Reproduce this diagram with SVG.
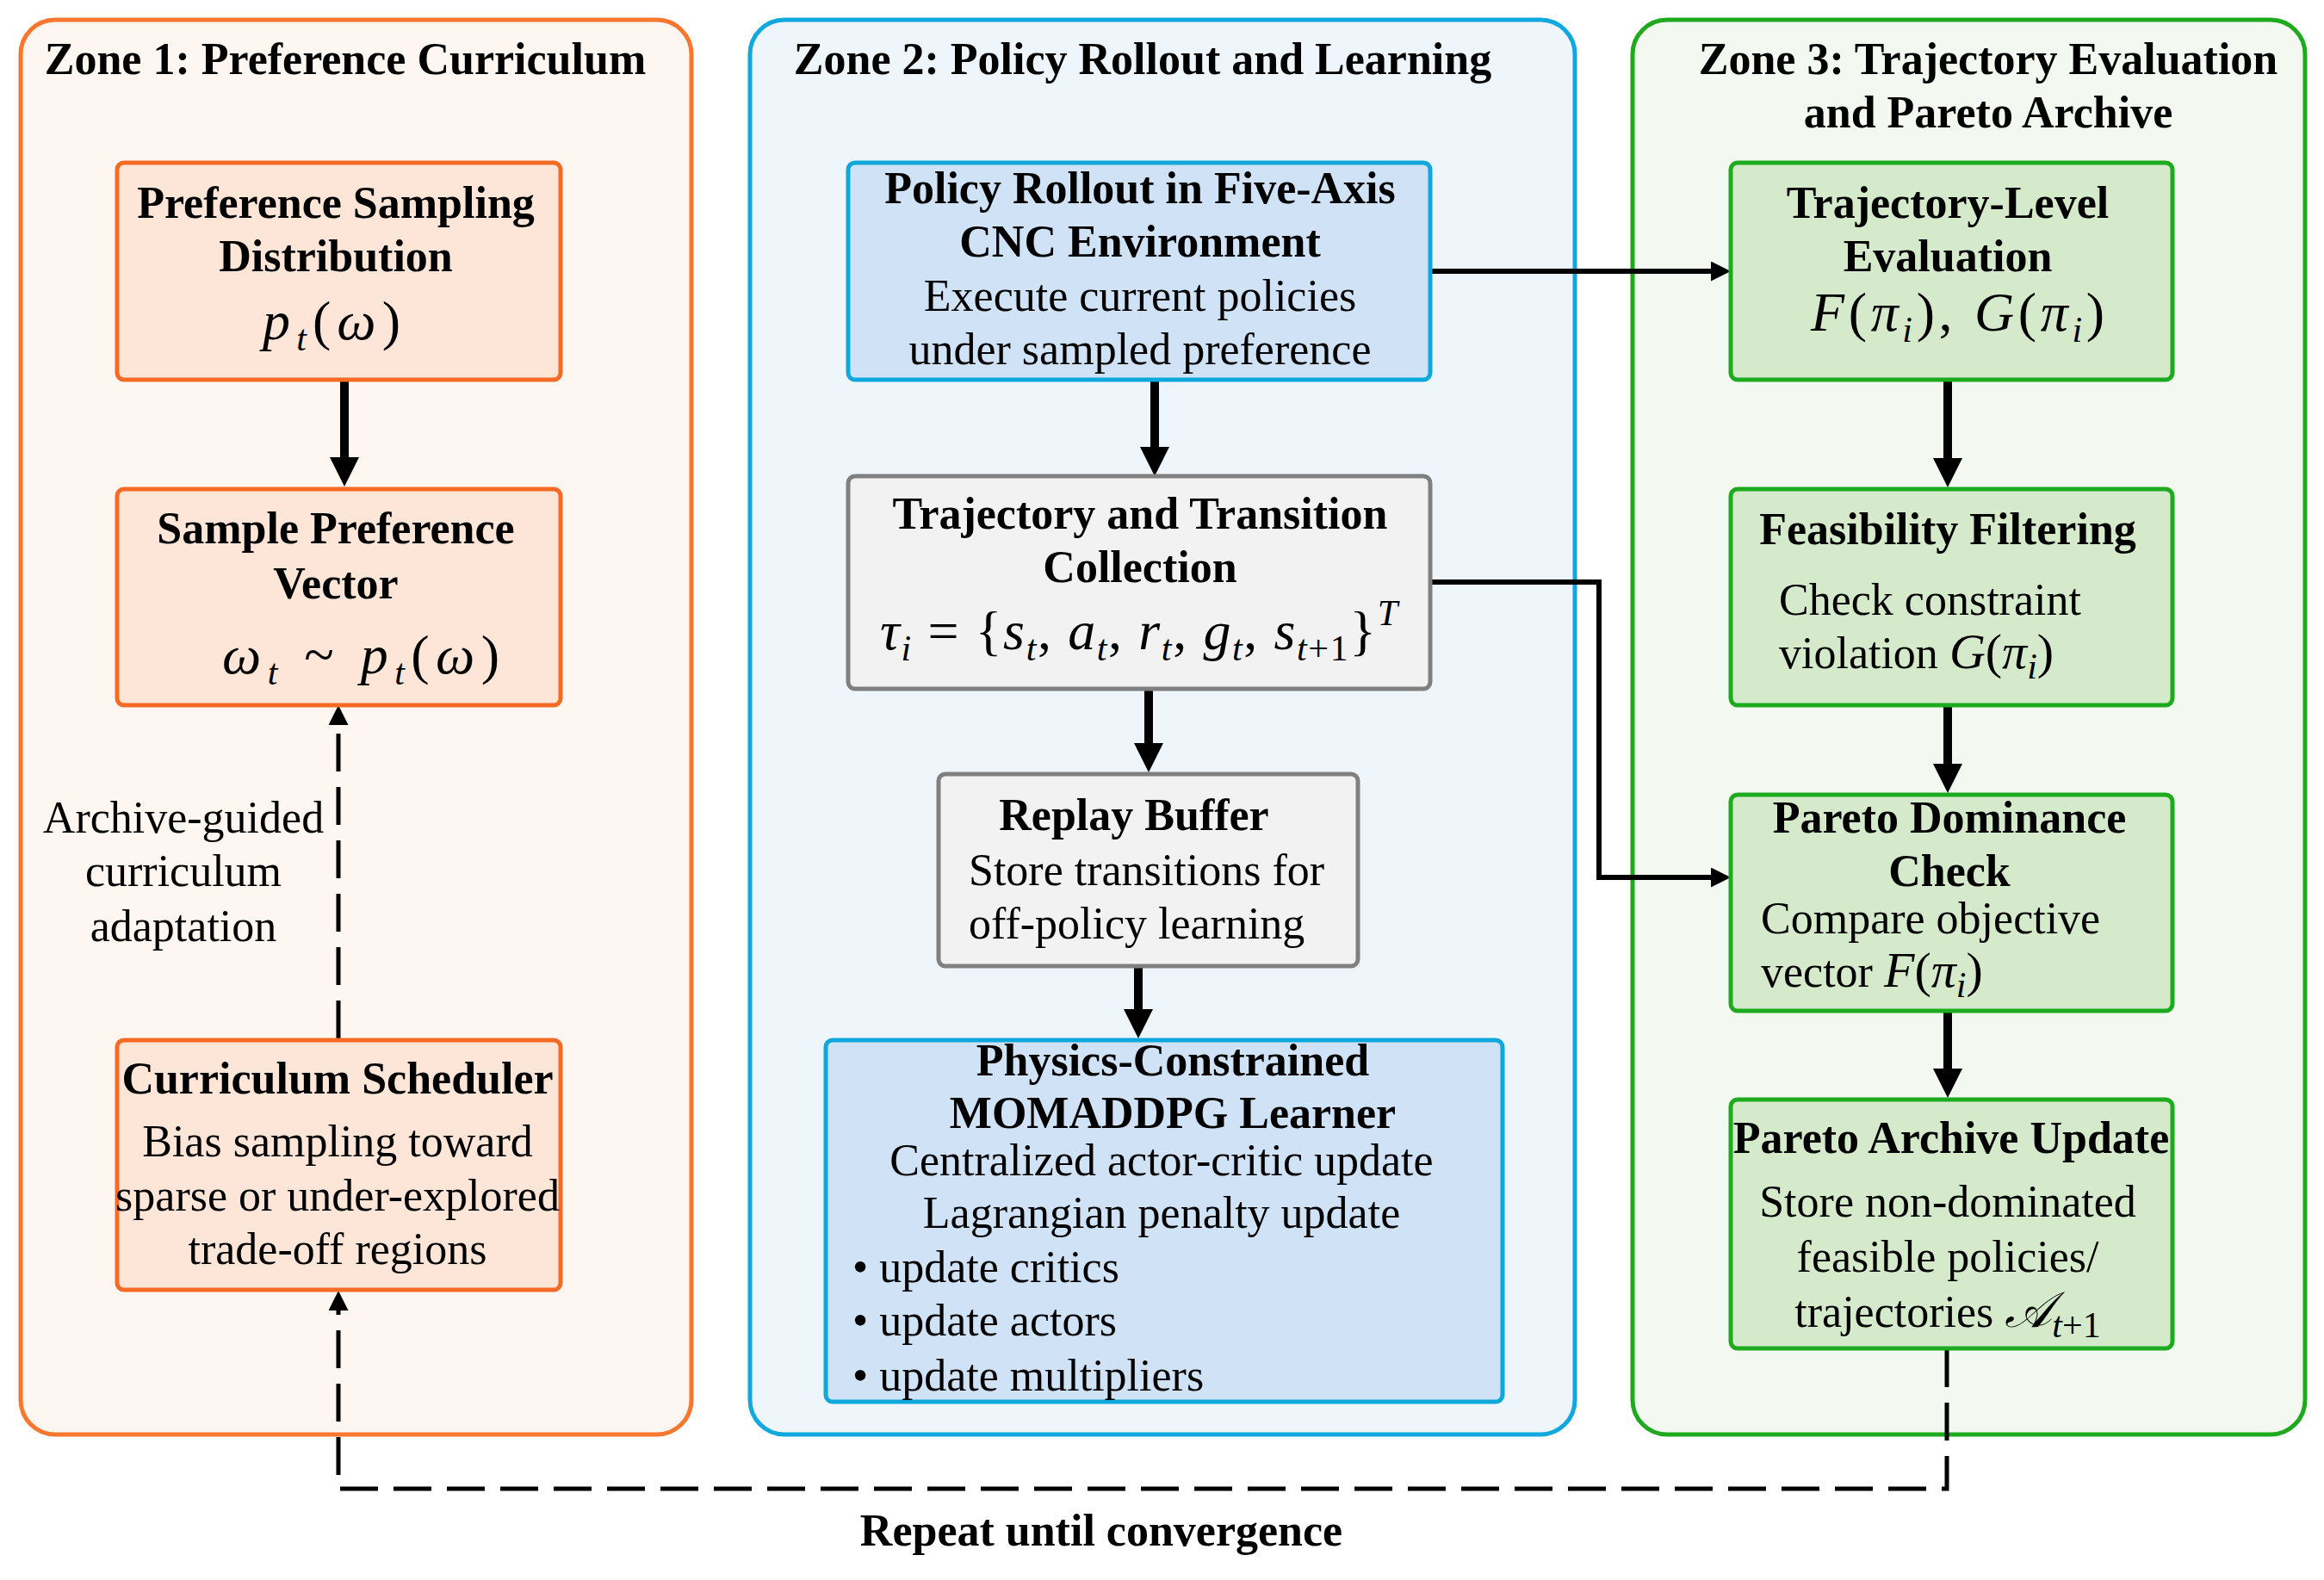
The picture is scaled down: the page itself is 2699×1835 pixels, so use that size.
<svg xmlns="http://www.w3.org/2000/svg" width="2699" height="1835" viewBox="0 0 2699 1835">
<style>
text{font-family:"Liberation Serif","Times New Roman",serif;font-size:52px;fill:#000}
.b{font-weight:bold}
.c{text-anchor:middle}
.m{font-size:64px}
.mi{font-size:58px}
.i{font-style:italic}
.s{font-size:42px}
.zone{stroke-width:5}
.node{stroke-width:5}
.z1{fill:#fef6f0;stroke:#f7772f}
.z2{fill:#eff6fb;stroke:#10a8de}
.z3{fill:#f3f9f1;stroke:#1fa91f}
.n1{fill:#fde5d8;stroke:#f56a24}
.n2{fill:#cfe2f6;stroke:#0fa8dd}
.ng{fill:#f2f2f2;stroke:#808080}
.n3{fill:#d4eaca;stroke:#1eaa1e}
.thick{stroke:#000;stroke-width:10;fill:none;marker-end:url(#hb)}
.thin{stroke:#000;stroke-width:6;fill:none;marker-end:url(#hs)}
.dash{stroke:#000;stroke-width:5;fill:none;stroke-dasharray:44 18;marker-end:url(#hs)}
</style>
<defs>
<marker id="hb" markerUnits="userSpaceOnUse" markerWidth="34" markerHeight="34" refX="0" refY="17" orient="auto" viewBox="0 0 34 34"><path d="M0,0 L34,17 L0,34 z" fill="#000"/></marker>
<marker id="hs" markerUnits="userSpaceOnUse" markerWidth="23" markerHeight="23" refX="0" refY="11.5" orient="auto" viewBox="0 0 23 23"><path d="M0,0 L23,11.5 L0,23 z" fill="#000"/></marker>
</defs>

<g id="zone1">
<rect class="zone z1" x="24" y="23" width="779" height="1643" rx="40"/>
<text class="b c" x="401" y="86">Zone 1: Preference Curriculum</text>
</g>
<g id="zone2">
<rect class="zone z2" x="871" y="23" width="958" height="1643" rx="40"/>
<text class="b c" x="1327" y="86">Zone 2: Policy Rollout and Learning</text>
</g>
<g id="zone3">
<rect class="zone z3" x="1896" y="23" width="781" height="1643" rx="40"/>
<text class="b c" x="2309" y="86">Zone 3: Trajectory Evaluation</text>
<text class="b c" x="2309" y="148">and Pareto Archive</text>
</g>

<g id="connectors">
<path class="thick" d="M400,443 L400,531"/>
<path class="thick" d="M1341,442 L1341,519"/>
<path class="thick" d="M1334,802 L1334,863"/>
<path class="thick" d="M1322,1123 L1322,1172"/>
<path class="thick" d="M2262,442 L2262,532"/>
<path class="thick" d="M2262,820 L2262,887"/>
<path class="thick" d="M2262,1176 L2262,1241"/>
<path class="thin" d="M1661,315 L1987,315"/>
<path class="thin" d="M1661,676 L1857,676 L1857,1019 L1987,1019"/>
<path class="dash" d="M393,1206 L393,842"/>
<path class="dash" d="M2261,1567 L2261,1729 L393,1729 L393,1522"/>
</g>

<g id="n-pref-dist">
<rect class="node n1" x="136" y="189" width="515" height="252" rx="8"/>
<text class="b c" x="390" y="253">Preference Sampling</text>
<text class="b c" x="390" y="315">Distribution</text>
<text class="m" x="305" y="394" textLength="160" lengthAdjust="spacing"><tspan class="i">p</tspan><tspan class="i s" dy="13">t</tspan><tspan dy="-13">(</tspan><tspan class="i">ω</tspan>)</text>
</g>
<g id="n-sample-vec">
<rect class="node n1" x="136" y="568" width="515" height="251" rx="8"/>
<text class="b c" x="390" y="631">Sample Preference</text>
<text class="b c" x="390" y="695">Vector</text>
<text class="m" x="258" y="782" textLength="322" lengthAdjust="spacing"><tspan class="i">ω</tspan><tspan class="i s" dy="13">t</tspan><tspan dy="-13"> ~ </tspan><tspan class="i">p</tspan><tspan class="i s" dy="13">t</tspan><tspan dy="-13">(</tspan><tspan class="i">ω</tspan>)</text>
</g>
<g id="n-scheduler">
<rect class="node n1" x="136" y="1208" width="515" height="290" rx="8"/>
<text class="b c" x="392" y="1270">Curriculum Scheduler</text>
<text class="c" x="392" y="1343">Bias sampling toward</text>
<text class="c" x="392" y="1406">sparse or under-explored</text>
<text class="c" x="392" y="1468">trade-off regions</text>
</g>
<g id="label-archive">
<text class="c" x="213" y="967">Archive-guided</text>
<text class="c" x="213" y="1029">curriculum</text>
<text class="c" x="213" y="1093">adaptation</text>
</g>

<g id="n-rollout">
<rect class="node n2" x="985" y="189" width="676" height="252" rx="8"/>
<text class="b c" x="1324" y="236">Policy Rollout in Five-Axis</text>
<text class="b c" x="1324" y="298">CNC Environment</text>
<text class="c" x="1324" y="361">Execute current policies</text>
<text class="c" x="1324" y="423">under sampled preference</text>
</g>
<g id="n-trajectory">
<rect class="node ng" x="985" y="553" width="676" height="247" rx="8"/>
<text class="b c" x="1324" y="614">Trajectory and Transition</text>
<text class="b c" x="1324" y="676">Collection</text>
<text class="m" x="1022" y="754" textLength="601" lengthAdjust="spacing"><tspan class="i">τ</tspan><tspan class="i s" dy="13">i</tspan><tspan dy="-13"> = {</tspan><tspan class="i">s</tspan><tspan class="i s" dy="13">t</tspan><tspan dy="-13">, </tspan><tspan class="i">a</tspan><tspan class="i s" dy="13">t</tspan><tspan dy="-13">, </tspan><tspan class="i">r</tspan><tspan class="i s" dy="13">t</tspan><tspan dy="-13">, </tspan><tspan class="i">g</tspan><tspan class="i s" dy="13">t</tspan><tspan dy="-13">, </tspan><tspan class="i">s</tspan><tspan class="s" dy="13"><tspan class="i">t</tspan>+1</tspan><tspan dy="-13">}</tspan><tspan class="i s" dy="-28">T</tspan></text>
</g>
<g id="n-replay">
<rect class="node ng" x="1090" y="899" width="487" height="223" rx="8"/>
<text class="b c" x="1317" y="964">Replay Buffer</text>
<text x="1125" y="1028">Store transitions for</text>
<text x="1125" y="1090">off-policy learning</text>
</g>
<g id="n-learner">
<rect class="node n2" x="959" y="1208" width="786" height="420" rx="8"/>
<text class="b c" x="1362" y="1249">Physics-Constrained</text>
<text class="b c" x="1362" y="1310">MOMADDPG Learner</text>
<text class="c" x="1349" y="1365">Centralized actor-critic update</text>
<text class="c" x="1349" y="1426">Lagrangian penalty update</text>
<text x="990" y="1489">• update critics</text>
<text x="990" y="1551">• update actors</text>
<text x="990" y="1615">• update multipliers</text>
</g>

<g id="n-eval">
<rect class="node n3" x="2010" y="189" width="513" height="252" rx="8"/>
<text class="b c" x="2262" y="253">Trajectory-Level</text>
<text class="b c" x="2262" y="315">Evaluation</text>
<text class="m" x="2103" y="384" textLength="341" lengthAdjust="spacing"><tspan class="i">F</tspan>(<tspan class="i">π</tspan><tspan class="i s" dy="13">i</tspan><tspan dy="-13">), </tspan><tspan class="i">G</tspan>(<tspan class="i">π</tspan><tspan class="i s" dy="13">i</tspan><tspan dy="-13">)</tspan></text>
</g>
<g id="n-feasibility">
<rect class="node n3" x="2010" y="568" width="513" height="251" rx="8"/>
<text class="b c" x="2262" y="632">Feasibility Filtering</text>
<text x="2066" y="714">Check constraint</text>
<text x="2066" y="776">violation <tspan class="mi"><tspan class="i">G</tspan>(<tspan class="i">π</tspan><tspan class="i s" dy="12">i</tspan><tspan dy="-12">)</tspan></tspan></text>
</g>
<g id="n-dominance">
<rect class="node n3" x="2010" y="923" width="513" height="251" rx="8"/>
<text class="b c" x="2264" y="967">Pareto Dominance</text>
<text class="b c" x="2264" y="1029">Check</text>
<text x="2045" y="1084">Compare objective</text>
<text x="2045" y="1146">vector <tspan class="mi"><tspan class="i">F</tspan>(<tspan class="i">π</tspan><tspan class="i s" dy="12">i</tspan><tspan dy="-12">)</tspan></tspan></text>
</g>
<g id="n-archive">
<rect class="node n3" x="2010" y="1277" width="513" height="289" rx="8"/>
<text class="b c" x="2266" y="1339">Pareto Archive Update</text>
<text class="c" x="2262" y="1413">Store non-dominated</text>
<text class="c" x="2262" y="1477">feasible policies/</text>
<text class="c" x="2262" y="1541">trajectories <tspan class="i mi">𝒜</tspan><tspan class="s" dy="12"><tspan class="i">t</tspan>+1</tspan></text>
</g>

<g id="label-repeat">
<text class="b c" x="1279" y="1795">Repeat until convergence</text>
</g>
</svg>
